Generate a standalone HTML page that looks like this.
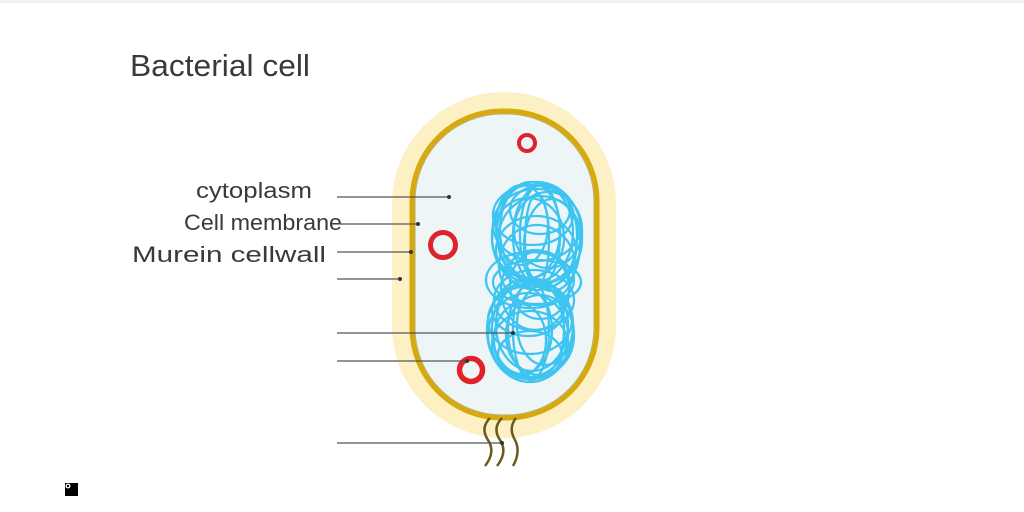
<!DOCTYPE html>
<html><head><meta charset="utf-8"><style>
html,body{margin:0;padding:0;background:#fff;}
svg{display:block}
text{font-family:"Liberation Sans",sans-serif;fill:#3a3a3a;}
</style></head><body>
<svg width="1024" height="512" viewBox="0 0 1024 512" xmlns="http://www.w3.org/2000/svg">
<rect width="1024" height="512" fill="#fff"/>
<rect width="1024" height="3" fill="#f0f0f0"/>
<text x="130" y="76" font-size="31" fill="#3a3a3a" textLength="180" lengthAdjust="spacingAndGlyphs">Bacterial cell</text>
<text x="312" y="198" font-size="22" text-anchor="end" textLength="116" lengthAdjust="spacingAndGlyphs">cytoplasm</text>
<text x="342" y="230" font-size="22" text-anchor="end" textLength="158" lengthAdjust="spacingAndGlyphs">Cell membrane</text>
<text x="326" y="262" font-size="22" text-anchor="end" textLength="194" lengthAdjust="spacingAndGlyphs">Murein cellwall</text>

<rect x="392" y="92" width="224" height="346" rx="112" fill="#fdf0c4"/>
<rect x="412" y="111" width="185" height="307" rx="90" fill="#eef5f6" stroke="#d6aa0c" stroke-width="5"/>
<rect x="415" y="114" width="179" height="301" rx="87" fill="none" stroke="#9a7c00" stroke-width="1" opacity=".6"/>

<g fill="none" stroke="#6b5a1a" stroke-width="2.5">
<path d="M490 418 q-10 10 -2 22 q8 12 -3 26"/>
<path d="M502 418 q-10 10 -2 22 q8 12 -3 26"/>
<path d="M516 418 q-8 10 -1 22 q6 12 -2 26"/>
</g>

<g fill="none" stroke="#3ec4f0" stroke-width="2.3">
<ellipse cx="537" cy="236" rx="45" ry="54"/>
<ellipse cx="535" cy="232" rx="38" ry="50"/>
<ellipse cx="540" cy="240" rx="42" ry="44"/>
<ellipse cx="530" cy="230" rx="30" ry="48"/>
<ellipse cx="545" cy="236" rx="32" ry="52"/>
<ellipse cx="537" cy="225" rx="44" ry="36"/>
<ellipse cx="536" cy="250" rx="40" ry="34"/>
<ellipse cx="540" cy="235" rx="20" ry="50"/>
<ellipse cx="528" cy="238" rx="36" ry="40"/>
<ellipse cx="548" cy="230" rx="34" ry="38"/>
<ellipse cx="533" cy="215" rx="40" ry="30"/>
<ellipse cx="552" cy="245" rx="28" ry="46"/>
<ellipse cx="522" cy="225" rx="26" ry="40"/>
<ellipse cx="537" cy="240" rx="12" ry="46"/>
<ellipse cx="540" cy="210" rx="30" ry="24"/>
<ellipse cx="537" cy="265" rx="38" ry="40"/>
<ellipse cx="535" cy="290" rx="34" ry="40"/>
<ellipse cx="530" cy="280" rx="44" ry="28"/>
<ellipse cx="540" cy="285" rx="30" ry="34"/>
<ellipse cx="530" cy="330" rx="43" ry="52"/>
<ellipse cx="532" cy="325" rx="36" ry="46"/>
<ellipse cx="528" cy="335" rx="40" ry="42"/>
<ellipse cx="536" cy="330" rx="28" ry="48"/>
<ellipse cx="522" cy="330" rx="30" ry="44"/>
<ellipse cx="530" cy="320" rx="42" ry="34"/>
<ellipse cx="530" cy="345" rx="38" ry="34"/>
<ellipse cx="531" cy="330" rx="18" ry="50"/>
<ellipse cx="540" cy="335" rx="34" ry="40"/>
<ellipse cx="534" cy="300" rx="40" ry="30"/>
<ellipse cx="537" cy="282" rx="44" ry="22"/>
<ellipse cx="520" cy="340" rx="26" ry="36"/>
<ellipse cx="545" cy="325" rx="28" ry="40"/>
<ellipse cx="530" cy="355" rx="32" ry="24"/>
<ellipse cx="528" cy="310" rx="36" ry="26"/>
</g>

<g fill="none" stroke="#e0232a">
<circle cx="527" cy="143" r="8" stroke-width="4"/>
<circle cx="443" cy="245" r="12.5" stroke-width="5"/>
<circle cx="471" cy="370" r="11.5" stroke-width="5.5"/>
</g>

<g stroke="#555" stroke-width="1.3">
<line x1="337" y1="197" x2="449" y2="197"/>
<line x1="337" y1="224" x2="418" y2="224"/>
<line x1="337" y1="252" x2="411" y2="252"/>
<line x1="337" y1="279" x2="400" y2="279"/>
<line x1="337" y1="333" x2="513" y2="333"/>
<line x1="337" y1="361" x2="467" y2="361"/>
<line x1="337" y1="443" x2="502" y2="443"/>
</g>
<g fill="#333">
<circle cx="449" cy="197" r="2"/>
<circle cx="418" cy="224" r="2"/>
<circle cx="411" cy="252" r="2"/>
<circle cx="400" cy="279" r="2"/>
<circle cx="513" cy="333" r="2"/>
<circle cx="467" cy="361" r="2"/>
<circle cx="502" cy="443" r="2"/>
</g>

<rect x="65" y="483" width="13" height="13" fill="#000"/>
<circle cx="68" cy="486" r="2.5" fill="#fff"/>
<circle cx="68" cy="486" r="1.2" fill="#000"/>
</svg>
</body></html>
